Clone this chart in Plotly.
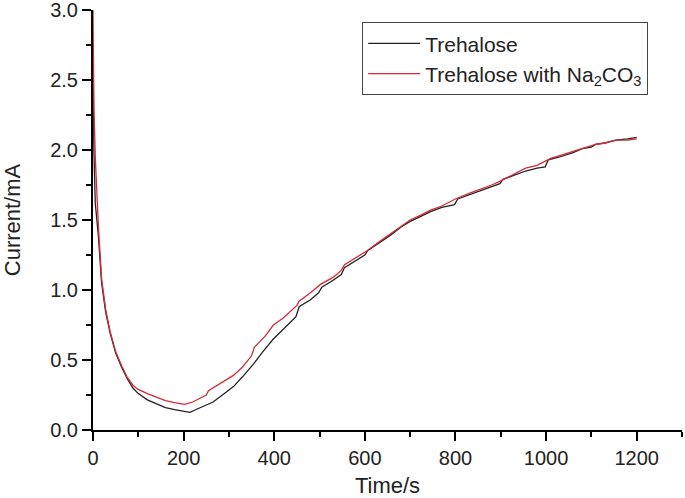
import plotly.graph_objects as go

# Trehalose (black)
t_plain = [0, 2, 5, 12, 19, 28, 38, 50, 63, 75, 88, 100, 120, 140, 160, 180, 200, 214,
           230, 250, 265, 290, 310, 330, 354, 375, 398, 420, 448, 455, 480, 498, 505,
           530, 548, 555, 580, 600, 606, 630, 656, 680, 700, 720, 745, 770, 798, 805,
           830, 855, 880, 898, 905, 930, 955, 980, 998, 1005, 1030, 1058, 1080, 1100,
           1109, 1130, 1154, 1180, 1200]
i_plain = [2.7, 2.0, 1.62, 1.38, 1.05, 0.84, 0.69, 0.55, 0.45, 0.37, 0.30, 0.26, 0.215,
           0.185, 0.16, 0.145, 0.135, 0.126, 0.15, 0.18, 0.20, 0.26, 0.31, 0.38, 0.47,
           0.56, 0.65, 0.72, 0.81, 0.88, 0.93, 0.98, 1.02, 1.07, 1.11, 1.16, 1.21, 1.25,
           1.28, 1.33, 1.39, 1.45, 1.49, 1.52, 1.56, 1.59, 1.61, 1.65, 1.68, 1.71, 1.74,
           1.76, 1.79, 1.82, 1.85, 1.87, 1.88, 1.93, 1.95, 1.98, 2.01, 2.02, 2.04, 2.05,
           2.07, 2.08, 2.09]

# Trehalose with Na2CO3 (red)
t_na = [0, 2, 5, 12, 19, 28, 38, 50, 63, 75, 88, 100, 120, 140, 160, 180, 202, 220,
        250, 255, 280, 310, 330, 350, 356, 380, 398, 420, 450, 455, 480, 502, 530, 548,
        555, 580, 605, 630, 656, 680, 700, 720, 745, 770, 800, 830, 855, 880, 900, 930,
        955, 980, 1010, 1030, 1058, 1080, 1109, 1130, 1154, 1180, 1200]
i_na = [3.0, 2.3, 1.95, 1.45, 1.08, 0.86, 0.70, 0.56, 0.46, 0.38, 0.32, 0.29, 0.26,
        0.235, 0.21, 0.195, 0.183, 0.20, 0.25, 0.28, 0.33, 0.39, 0.45, 0.53, 0.59, 0.67,
        0.75, 0.80, 0.89, 0.92, 0.98, 1.04, 1.09, 1.14, 1.18, 1.23, 1.28, 1.34, 1.40,
        1.46, 1.50, 1.53, 1.57, 1.60, 1.65, 1.69, 1.72, 1.75, 1.78, 1.83, 1.87, 1.89,
        1.94, 1.96, 1.99, 2.01, 2.04, 2.05, 2.07, 2.07, 2.08]

fig = go.Figure()
fig.add_trace(go.Scatter(x=t_plain, y=i_plain, mode="lines", name="Trehalose",
                         line=dict(color="#222222", width=1.3)))
fig.add_trace(go.Scatter(x=t_na, y=i_na, mode="lines",
                         name="Trehalose with Na<sub>2</sub>CO<sub>3</sub>",
                         line=dict(color="#d42a3a", width=1.3)))

axis_common = dict(
    showgrid=False, zeroline=False, showline=True, linecolor="black", linewidth=2,
    ticks="outside", ticklen=9, tickwidth=1.5, tickcolor="black",
    tickfont=dict(size=20, color="#222222"), automargin=False,
    ticklabeloverflow="allow",
)

fig.update_layout(
    width=685, height=498,
    margin=dict(l=93, r=3, t=10, b=68),
    paper_bgcolor="white", plot_bgcolor="white",
    font=dict(family="Liberation Sans, Arial, sans-serif", color="#222222"),
    xaxis=dict(range=[0, 1300], dtick=200,
               title=dict(text="Time/s", font=dict(size=22), standoff=10),
               minor=dict(dtick=100, ticks="outside", ticklen=5, tickcolor="black"),
               **axis_common),
    yaxis=dict(range=[0, 3.0], dtick=0.5, tickformat=".1f",
               title=dict(text="Current/mA", font=dict(size=22), standoff=24),
               minor=dict(dtick=0.25, ticks="outside", ticklen=5, tickcolor="black"),
               **axis_common),
    legend=dict(x=0.457, y=0.971, xanchor="left", yanchor="top",
                bordercolor="#444444", borderwidth=1, bgcolor="white",
                itemwidth=52,
                font=dict(size=21, color="#222222"), tracegroupgap=0),
)

# drop the default page margin so the figure sits at the window's corner
fig.write_html("out.html", config={"displayModeBar": False},
               post_script="document.body.style.margin='0';")
